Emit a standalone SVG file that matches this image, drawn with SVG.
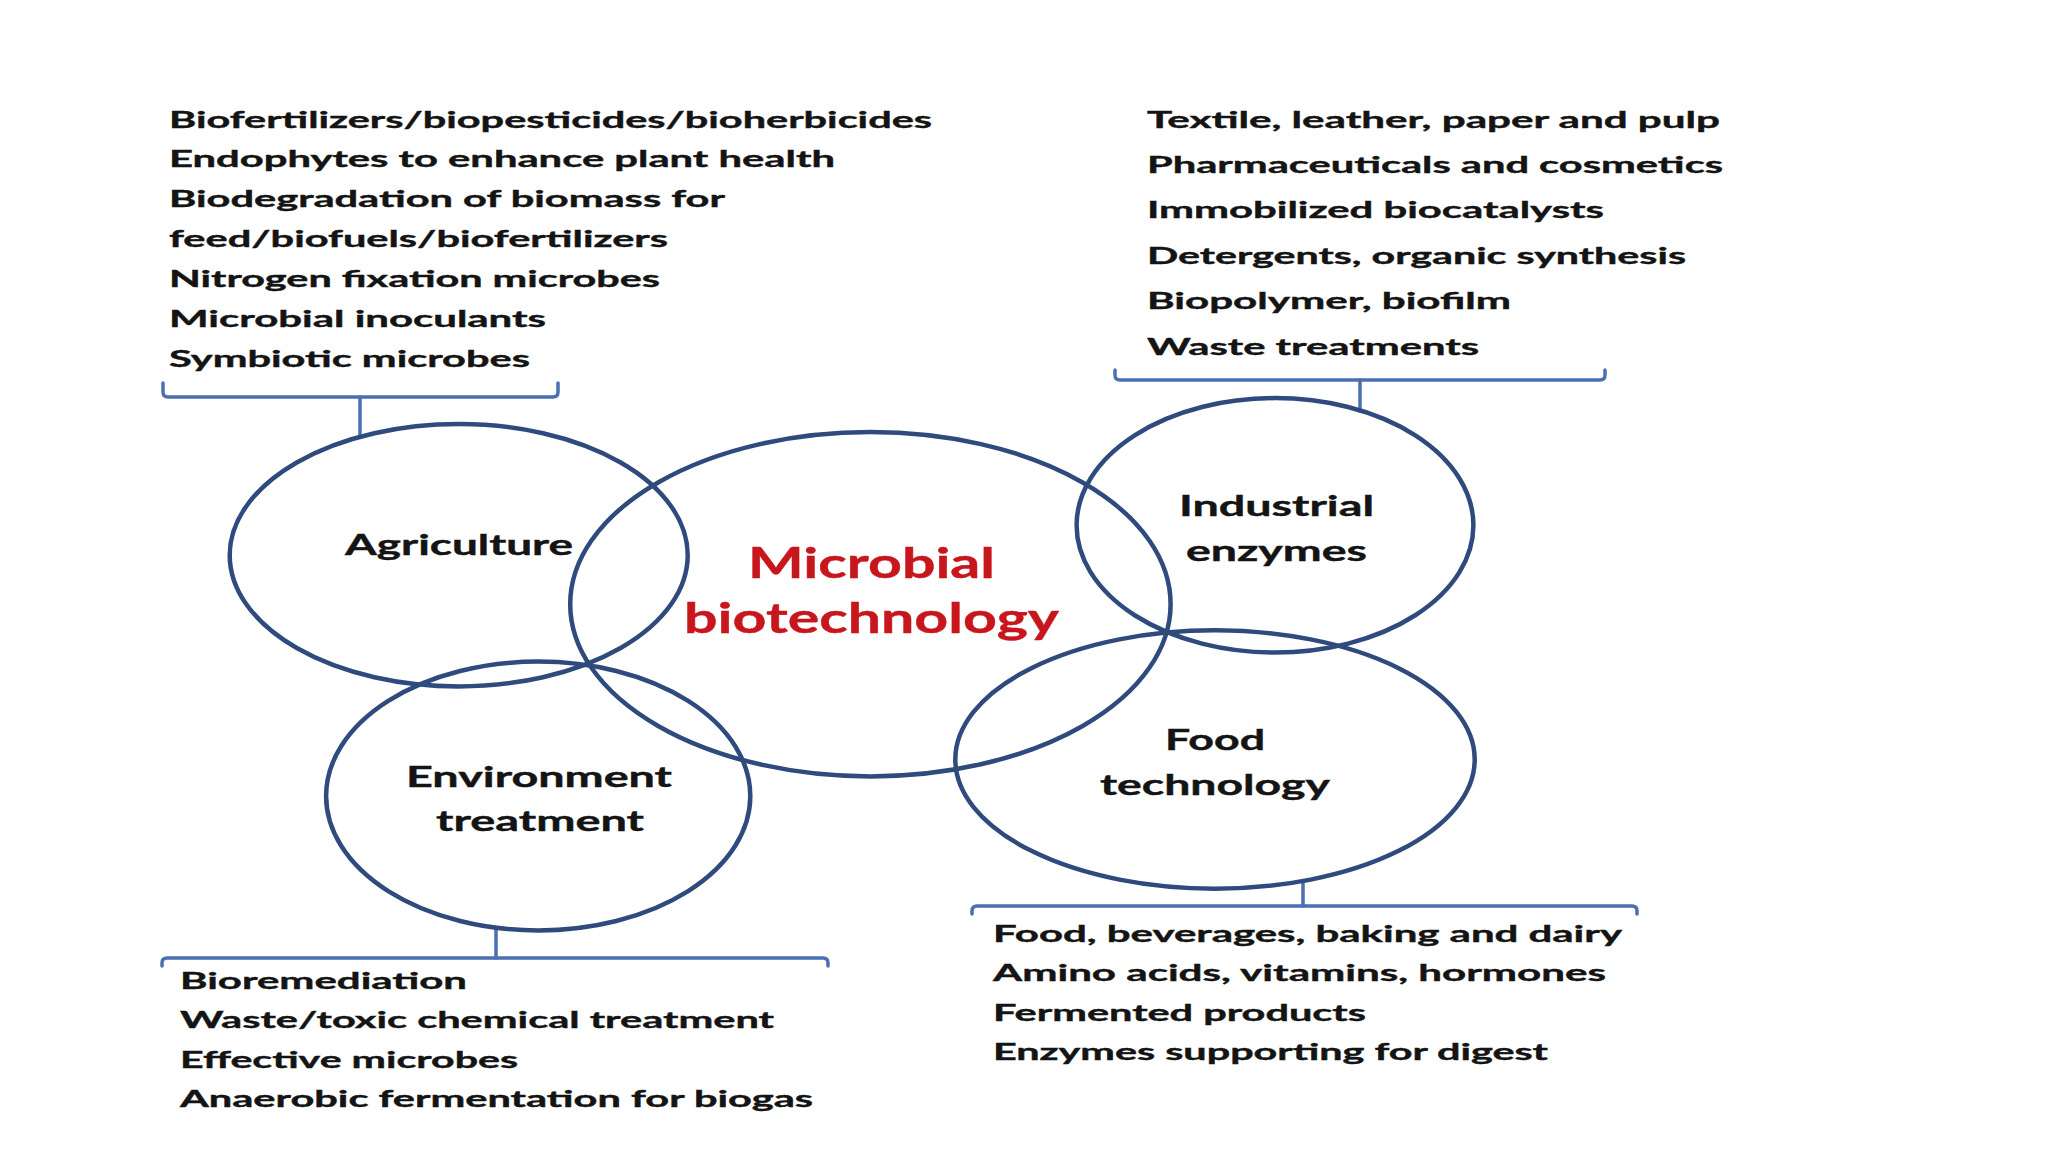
<svg xmlns="http://www.w3.org/2000/svg" width="2048" height="1152" viewBox="0 0 2048 1152">
<style>
.bg{fill:#ffffff}
.ring{fill:none;stroke:#2f4a7c;stroke-width:4.5}
.br{fill:none;stroke:#4a6fb2;stroke-width:3.5;stroke-linecap:round;stroke-linejoin:round}
.li{font-family:Lato,"Liberation Sans",sans-serif;font-weight:bold;font-size:23.5px;fill:#141414;stroke:#141414;stroke-width:0.4}
.lb{font-family:Lato,"Liberation Sans",sans-serif;font-weight:bold;font-size:29px;fill:#141414;stroke:#141414;stroke-width:0.4}
.rd{font-family:Lato,"Liberation Sans",sans-serif;font-weight:bold;font-size:42px;fill:#c8161d;stroke:#c8161d;stroke-width:0.4}
</style>
<rect class="bg" x="0" y="0" width="2048" height="1152"/>

<g id="connectors">
  <path class="br" d="M163,383 L163,392 Q163,397 168,397 L553,397 Q558,397 558,392 L558,383"/>
  <path class="br" d="M360,397 L360,437"/>
  <path class="br" d="M1115,370 L1115,375 Q1115,380 1120,380 L1600,380 Q1605,380 1605,375 L1605,370"/>
  <path class="br" d="M1360,380 L1360,411"/>
  <path class="br" d="M162,966 L162,963 Q162,958 167,958 L823,958 Q828,958 828,963 L828,966"/>
  <path class="br" d="M496,928 L496,958"/>
  <path class="br" d="M972,914 L972,911 Q972,906 977,906 L1632,906 Q1637,906 1637,911 L1637,914"/>
  <path class="br" d="M1303,881 L1303,906"/>
</g>

<g id="agriculture">
  <ellipse class="ring" cx="458.7" cy="555.2" rx="229" ry="131.2"/>
  <text class="lb" x="345" y="555" textLength="228" lengthAdjust="spacingAndGlyphs">Agriculture</text>
</g>
<g id="microbial-biotechnology">
  <ellipse class="ring" cx="870.4" cy="604.2" rx="300.2" ry="172.2"/>
  <text class="rd" x="748" y="578" textLength="247" lengthAdjust="spacingAndGlyphs">Microbial</text>
  <text class="rd" x="684" y="633" textLength="375" lengthAdjust="spacingAndGlyphs">biotechnology</text>
</g>
<g id="industrial-enzymes">
  <ellipse class="ring" cx="1275" cy="525.3" rx="198.4" ry="127.2"/>
  <text class="lb" x="1179" y="516" textLength="195" lengthAdjust="spacingAndGlyphs">Industrial</text>
  <text class="lb" x="1186" y="561" textLength="181" lengthAdjust="spacingAndGlyphs">enzymes</text>
</g>
<g id="environment-treatment">
  <ellipse class="ring" cx="538.2" cy="796" rx="212.1" ry="134.4"/>
  <text class="lb" x="406" y="787" textLength="266" lengthAdjust="spacingAndGlyphs">Environment</text>
  <text class="lb" x="436" y="831" textLength="208" lengthAdjust="spacingAndGlyphs">treatment</text>
</g>
<g id="food-technology">
  <ellipse class="ring" cx="1215" cy="759.5" rx="259.7" ry="129.2"/>
  <text class="lb" x="1165" y="750" textLength="100" lengthAdjust="spacingAndGlyphs">Food</text>
  <text class="lb" x="1100" y="795" textLength="230" lengthAdjust="spacingAndGlyphs">technology</text>
</g>

<g id="agriculture-list">
  <text class="li" x="169" y="127.5" textLength="763" lengthAdjust="spacingAndGlyphs">Biofertilizers/biopesticides/bioherbicides</text>
  <text class="li" x="169" y="167.4" textLength="666" lengthAdjust="spacingAndGlyphs">Endophytes to enhance plant health</text>
  <text class="li" x="169" y="207.3" textLength="556" lengthAdjust="spacingAndGlyphs">Biodegradation of biomass for</text>
  <text class="li" x="169" y="247.2" textLength="499" lengthAdjust="spacingAndGlyphs">feed/biofuels/biofertilizers</text>
  <text class="li" x="169" y="287.1" textLength="491" lengthAdjust="spacingAndGlyphs">Nitrogen fixation microbes</text>
  <text class="li" x="169" y="327" textLength="377" lengthAdjust="spacingAndGlyphs">Microbial inoculants</text>
  <text class="li" x="169" y="366.9" textLength="361" lengthAdjust="spacingAndGlyphs">Symbiotic microbes</text>
</g>
<g id="industrial-list">
  <text class="li" x="1147" y="127.5" textLength="573" lengthAdjust="spacingAndGlyphs">Textile, leather, paper and pulp</text>
  <text class="li" x="1147" y="172.9" textLength="576" lengthAdjust="spacingAndGlyphs">Pharmaceuticals and cosmetics</text>
  <text class="li" x="1147" y="218.3" textLength="457" lengthAdjust="spacingAndGlyphs">Immobilized biocatalysts</text>
  <text class="li" x="1147" y="263.7" textLength="539" lengthAdjust="spacingAndGlyphs">Detergents, organic synthesis</text>
  <text class="li" x="1147" y="309.1" textLength="364" lengthAdjust="spacingAndGlyphs">Biopolymer, biofilm</text>
  <text class="li" x="1147" y="354.5" textLength="332" lengthAdjust="spacingAndGlyphs">Waste treatments</text>
</g>
<g id="environment-list">
  <text class="li" x="180" y="988.5" textLength="287" lengthAdjust="spacingAndGlyphs">Bioremediation</text>
  <text class="li" x="180" y="1028" textLength="594" lengthAdjust="spacingAndGlyphs">Waste/toxic chemical treatment</text>
  <text class="li" x="180" y="1067.5" textLength="338" lengthAdjust="spacingAndGlyphs">Effective microbes</text>
  <text class="li" x="180" y="1107" textLength="633" lengthAdjust="spacingAndGlyphs">Anaerobic fermentation for biogas</text>
</g>
<g id="food-list">
  <text class="li" x="993" y="941.5" textLength="629" lengthAdjust="spacingAndGlyphs">Food, beverages, baking and dairy</text>
  <text class="li" x="993" y="981" textLength="613" lengthAdjust="spacingAndGlyphs">Amino acids, vitamins, hormones</text>
  <text class="li" x="993" y="1020.5" textLength="373" lengthAdjust="spacingAndGlyphs">Fermented products</text>
  <text class="li" x="993" y="1060" textLength="555" lengthAdjust="spacingAndGlyphs">Enzymes supporting for digest</text>
</g>
</svg>
